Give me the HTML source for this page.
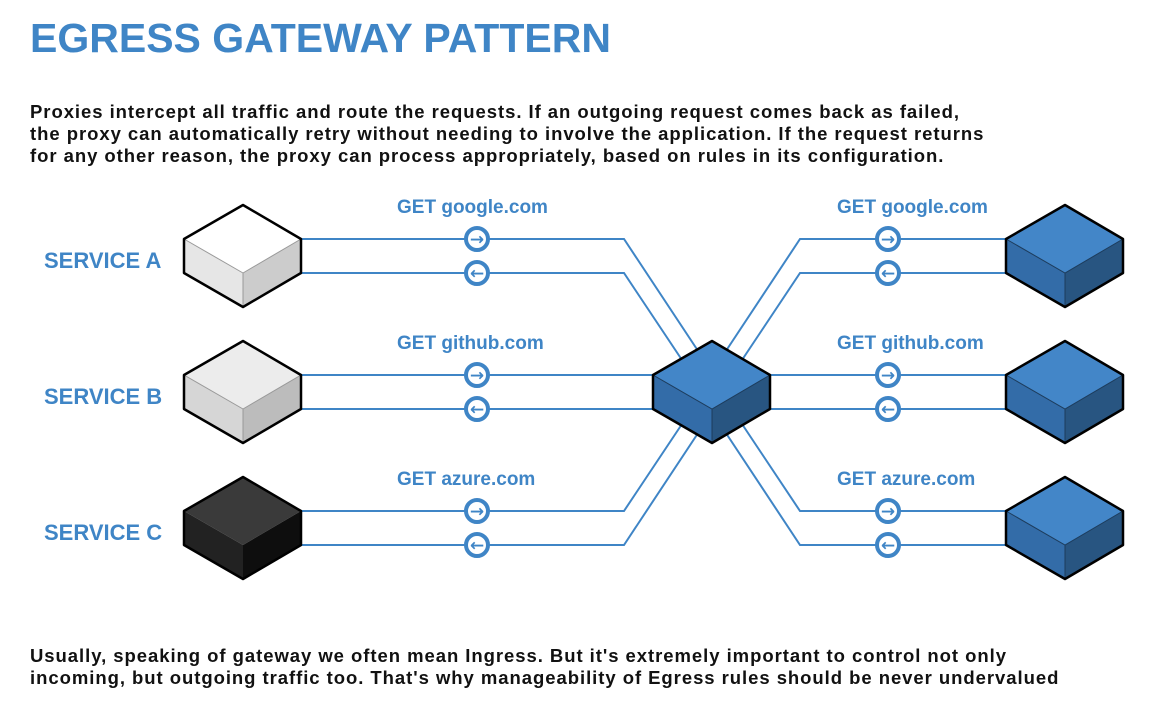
<!DOCTYPE html>
<html><head><meta charset="utf-8"><style>
body{margin:0;width:1161px;height:720px;background:#fff;position:relative;font-family:"Liberation Sans",sans-serif;overflow:hidden}
.t{position:absolute;left:30px;top:15px;font-size:41px;font-weight:bold;color:#3f85c6;letter-spacing:0}
.p{position:absolute;left:30px;font-size:18.5px;font-weight:bold;color:#111;line-height:22px;white-space:nowrap;letter-spacing:0.95px}
svg{position:absolute;left:0;top:0}
</style></head><body>
<div class="t">EGRESS GATEWAY PATTERN</div>
<div class="p" style="top:101px">Proxies intercept all traffic and route the requests. If an outgoing request comes back as failed,<br>the proxy can automatically retry without needing to involve the application. If the request returns<br>for any other reason, the proxy can process appropriately, based on rules in its configuration.</div>
<div class="p" style="top:645px">Usually, speaking of gateway we often mean Ingress. But it's extremely important to control not only<br>incoming, but outgoing traffic too. That's why manageability of Egress rules should be never undervalued</div>
<svg width="1161" height="720">
<defs>
<g id="ar"><circle r="11" fill="#fff" stroke="#3f85c6" stroke-width="4"/></g>
<g id="bc">
<polygon points="0,0 58,34 0,68 -59,34" fill="#4386c8"/><polygon points="-59,34 0,68 0,102 -59,68" fill="#336ca8"/><polygon points="0,68 58,34 58,68 0,102" fill="#285581"/>
<polyline points="-59,34 0,68 58,34" fill="none" stroke="#1d3c5c"/><line x1="0" y1="68" x2="0" y2="102" stroke="#1d3c5c"/>
<polygon points="0,0 58,34 58,68 0,102 -59,68 -59,34" fill="none" stroke="#000" stroke-width="2.5" stroke-linejoin="round"/></g>
</defs>
<g stroke="#3f85c6" stroke-width="2" fill="none">
<polyline points="301,239 624,239 712,372"/><polyline points="301,273 624,273 690,372"/>
<polyline points="301,375 653,375"/><polyline points="301,409 653,409"/>
<polyline points="301,511 624,511 690,412"/><polyline points="301,545 624,545 712,412"/>
<polyline points="1006,239 800,239 712,372"/><polyline points="1006,273 800,273 734,372"/>
<polyline points="1006,375 771,375"/><polyline points="1006,409 771,409"/>
<polyline points="1006,511 800,511 734,412"/><polyline points="1006,545 800,545 712,412"/>
</g>
<g font-family="Liberation Sans,sans-serif" font-weight="bold" font-size="19" fill="#3f85c6">
<text x="397" y="213">GET google.com</text><text x="837" y="213">GET google.com</text>
<text x="397" y="349">GET github.com</text><text x="837" y="349">GET github.com</text>
<text x="397" y="485">GET azure.com</text><text x="837" y="485">GET azure.com</text>
<text x="44" y="268" font-size="22">SERVICE A</text>
<text x="44" y="404" font-size="22">SERVICE B</text>
<text x="44" y="540" font-size="22">SERVICE C</text>
</g>
<g font-family="DejaVu Sans,sans-serif" font-weight="bold" font-size="17" fill="#3f85c6" text-anchor="middle">
<use href="#ar" x="477" y="239"/><text x="477" y="245">→</text>
<use href="#ar" x="477" y="273"/><text x="477" y="279">←</text>
<use href="#ar" x="477" y="375"/><text x="477" y="381">→</text>
<use href="#ar" x="477" y="409"/><text x="477" y="415">←</text>
<use href="#ar" x="477" y="511"/><text x="477" y="517">→</text>
<use href="#ar" x="477" y="545"/><text x="477" y="551">←</text>
<use href="#ar" x="888" y="239"/><text x="888" y="245">→</text>
<use href="#ar" x="888" y="273"/><text x="888" y="279">←</text>
<use href="#ar" x="888" y="375"/><text x="888" y="381">→</text>
<use href="#ar" x="888" y="409"/><text x="888" y="415">←</text>
<use href="#ar" x="888" y="511"/><text x="888" y="517">→</text>
<use href="#ar" x="888" y="545"/><text x="888" y="551">←</text>
</g>
<g stroke-linejoin="round">
<g transform="translate(243,205)">
<polygon points="0,0 58,34 0,68 -59,34" fill="#fff"/><polygon points="-59,34 0,68 0,102 -59,68" fill="#e6e6e6"/><polygon points="0,68 58,34 58,68 0,102" fill="#cccccc"/>
<polyline points="-59,34 0,68 58,34" fill="none" stroke="#999"/><line x1="0" y1="68" x2="0" y2="102" stroke="#999"/>
<polygon points="0,0 58,34 58,68 0,102 -59,68 -59,34" fill="none" stroke="#000" stroke-width="2.5"/></g>
<g transform="translate(243,341)">
<polygon points="0,0 58,34 0,68 -59,34" fill="#ececec"/><polygon points="-59,34 0,68 0,102 -59,68" fill="#d6d6d6"/><polygon points="0,68 58,34 58,68 0,102" fill="#bcbcbc"/>
<polyline points="-59,34 0,68 58,34" fill="none" stroke="#999"/><line x1="0" y1="68" x2="0" y2="102" stroke="#999"/>
<polygon points="0,0 58,34 58,68 0,102 -59,68 -59,34" fill="none" stroke="#000" stroke-width="2.5"/></g>
<g transform="translate(243,477)">
<polygon points="0,0 58,34 0,68 -59,34" fill="#3a3a3a"/><polygon points="-59,34 0,68 0,102 -59,68" fill="#222"/><polygon points="0,68 58,34 58,68 0,102" fill="#0e0e0e"/>
<polygon points="0,0 58,34 58,68 0,102 -59,68 -59,34" fill="none" stroke="#000" stroke-width="2.5"/></g>
</g>
<use href="#bc" x="712" y="341"/>
<use href="#bc" x="1065" y="205"/>
<use href="#bc" x="1065" y="341"/>
<use href="#bc" x="1065" y="477"/>
</svg>
</body></html>
